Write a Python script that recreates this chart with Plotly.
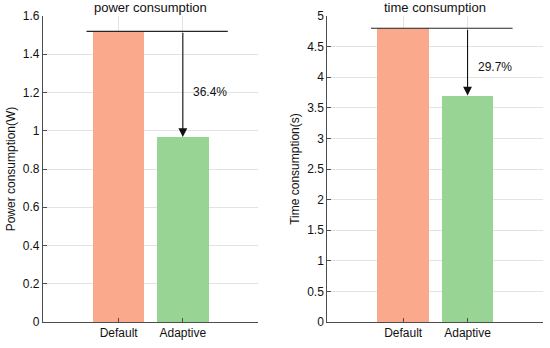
import plotly.graph_objects as go

categories = ["Default", "Adaptive"]
power_values = [1.52, 0.967]
time_values = [4.8, 3.7]
power_label = "36.4%"
time_label = "29.7%"
titles = ["power consumption", "time consumption"]
ytitles = ["Power consumption(W)", "Time consumption(s)"]

bar_colors = ["#FBA98C", "#98D493"]
axis_color = "#4D4D4D"
ref_line_color = "#262626"
grid_color = "#E3E3E3"
font_family = "Liberation Sans, Arial, sans-serif"

xpos = [1, 2]

fig = go.Figure()

panels = [
    dict(vals=power_values, label=power_label, xa="x", ya="y", dom=[0.078, 0.469],
         yrange=[0, 1.6], dtick=0.2),
    dict(vals=time_values, label=time_label, xa="x2", ya="y2", dom=[0.595, 0.987],
         yrange=[0, 5], dtick=0.5),
]

ydom = [1 - 322 / 348, 1 - 16 / 348]

for i, p in enumerate(panels):
    fig.add_trace(go.Bar(x=xpos, y=p["vals"], width=0.8, marker=dict(color=bar_colors, line=dict(width=0)),
                         xaxis=p["xa"], yaxis=p["ya"], showlegend=False, hoverinfo="skip"))
    top = p["vals"][0]
    low = p["vals"][1]
    # horizontal reference line at the Default value
    fig.add_shape(type="line", xref=p["xa"], yref=p["ya"], x0=0.5, x1=2.7, y0=top, y1=top,
                  line=dict(color=ref_line_color, width=1.2))
    # arrow from reference down to Adaptive bar
    fig.add_annotation(x=xpos[1], y=low, ax=xpos[1], ay=top, xref=p["xa"], yref=p["ya"],
                       axref=p["xa"], ayref=p["ya"], showarrow=True, arrowhead=2, arrowsize=1.6,
                       arrowwidth=1.1, arrowcolor="#111111", text="")
    fig.add_annotation(x=xpos[1], y=top - 0.57 * (top - low), xref=p["xa"], yref=p["ya"],
                       text=p["label"], showarrow=False, xanchor="left", xshift=8,
                       font=dict(size=12, color="#111111", family=font_family))
    # title
    fig.add_annotation(x=(p["dom"][0] + p["dom"][1]) / 2, y=1 - 8 / 348, xref="paper", yref="paper",
                       text=titles[i], showarrow=False, xanchor="center", yanchor="middle",
                       font=dict(size=13, color="#111111", family=font_family))

common_x = dict(range=[-0.18, 3.17], tickvals=xpos, ticktext=categories, showgrid=True,
                gridcolor=grid_color, gridwidth=1, showline=True, linecolor=axis_color, linewidth=1,
                ticks="inside", ticklen=4, tickcolor=axis_color, zeroline=False, automargin=False,
                tickfont=dict(size=12, color="#111111", family=font_family))

for i, p in enumerate(panels):
    xk = "xaxis" if i == 0 else "xaxis2"
    yk = "yaxis" if i == 0 else "yaxis2"
    xd = dict(common_x)
    xd["domain"] = p["dom"]
    xd["anchor"] = p["ya"]
    fig.layout[xk] = xd
    fig.layout[yk] = dict(domain=ydom, anchor=p["xa"], range=p["yrange"], dtick=p["dtick"], tick0=0,
                          showgrid=True, gridcolor=grid_color, gridwidth=1, showline=True,
                          linecolor=axis_color, linewidth=1, ticks="inside", ticklen=4,
                          tickcolor=axis_color, zeroline=False, automargin=False,
                          tickfont=dict(size=12, color="#111111", family=font_family),
                          title=dict(text=ytitles[i], standoff=4,
                                     font=dict(size=12, color="#111111", family=font_family)))

fig.update_layout(width=550, height=348, margin=dict(l=0, r=0, t=0, b=0),
                  plot_bgcolor="white", paper_bgcolor="white", bargap=0)

fig.write_html("out.html", config={"displayModeBar": False},
               post_script="document.body.style.margin='0';document.body.style.overflow='hidden';")
